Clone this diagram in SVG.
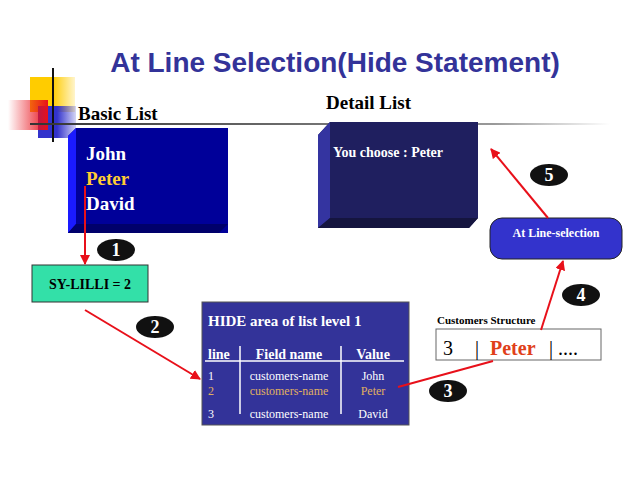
<svg xmlns="http://www.w3.org/2000/svg" width="638" height="478" viewBox="0 0 638 478">
<style>
.s{font-family:"Liberation Serif",serif;font-weight:bold}
.w{fill:#fff}
.r{stroke:#e8101a;stroke-width:2;fill:none}
.b ellipse{fill:#111}
.b text{font-family:"Liberation Serif",serif;font-weight:bold;font-size:18px;fill:#fff;text-anchor:middle}
</style>
<defs>
<marker id="a" viewBox="0 0 10 10" refX="9" refY="5" markerWidth="5" markerHeight="5" orient="auto"><path d="M0,0L10,5L0,10z" fill="#e8101a"/></marker>
<linearGradient id="rg" x1="1" x2="0"><stop offset="0" stop-color="#e8101a"/><stop offset="1" stop-color="#e8101a" stop-opacity="0"/></linearGradient>
<linearGradient id="yg" x1="0" x2="1"><stop offset="0.5" stop-color="#ffcc00"/><stop offset="1" stop-color="#ffcc00" stop-opacity="0.2"/></linearGradient>
<linearGradient id="bg" x1="0" x2="1"><stop offset="0.5" stop-color="#3333cc"/><stop offset="1" stop-color="#3333cc" stop-opacity="0.2"/></linearGradient>
<linearGradient id="lg" x1="0" x2="1"><stop offset="0" stop-color="#333"/><stop offset="0.8" stop-color="#999"/><stop offset="1" stop-color="#fff"/></linearGradient>
</defs>
<g id="decor">
<rect x="30" y="77" width="45" height="35" fill="url(#yg)"/>
<rect x="38" y="106" width="38" height="32" fill="url(#bg)"/>
<rect x="8" y="100" width="40" height="30" fill="url(#rg)"/>
<line x1="53" y1="68" x2="53" y2="142" stroke="#111" stroke-width="2"/>
<rect x="30" y="123" width="580" height="2" fill="url(#lg)"/>
</g>
<text x="335" y="72" text-anchor="middle" font-family="Liberation Sans,sans-serif" font-weight="bold" font-size="28" fill="#333399">At Line Selection(Hide Statement)</text>
<g id="basic">
<text x="78" y="120" class="s" font-size="19">Basic List</text>
<polygon points="76,128 228,128 228,233 68,233 68,136" fill="#000099"/>
<polygon points="68,136 76,128 76,224 68,233" fill="#1a1aff"/>
<polygon points="76,224 228,224 219,233 68,233" fill="#00006b"/>
<text x="86" y="160" class="s w" font-size="19">John</text>
<text x="86" y="185" class="s" font-size="19" fill="#ffcc33">Peter</text>
<text x="86" y="210" class="s w" font-size="19">David</text>
</g>
<g id="detail">
<text x="326" y="109" class="s" font-size="19">Detail List</text>
<polygon points="330,122 478,122 478,218 469,228 318,228 318,135" fill="#1f1f5f"/>
<polygon points="318,135 330,122 330,218 318,228" fill="#3434a0"/>
<polygon points="330,218 478,218 469,228 318,228" fill="#15153f"/>
<text x="333" y="157" class="s w" font-size="14">You choose : Peter</text>
</g>
<g id="sylilli">
<rect x="32" y="265" width="116" height="37" fill="#33e0a8" stroke="#333"/>
<text x="90" y="289" text-anchor="middle" class="s" font-size="14">SY-LILLI = 2</text>
</g>
<g id="hide">
<rect x="202" y="302" width="207" height="123" fill="#333399" stroke="#555"/>
<text x="208" y="326" class="s w" font-size="15">HIDE area of list level 1</text>
<g font-family="Liberation Serif,serif" font-size="12" fill="#fff">
<text x="208" y="359" font-weight="bold" font-size="14">line</text>
<text x="289" y="359" font-weight="bold" font-size="14" text-anchor="middle">Field name</text>
<text x="373" y="359" font-weight="bold" font-size="14" text-anchor="middle">Value</text>
<text x="208" y="380">1</text><text x="289" y="380" text-anchor="middle">customers-name</text><text x="373" y="380" text-anchor="middle">John</text>
<text x="208" y="395" fill="#e0b060">2</text><text x="289" y="395" text-anchor="middle" fill="#e0b060">customers-name</text><text x="373" y="395" text-anchor="middle" fill="#e0b060">Peter</text>
<text x="208" y="418">3</text><text x="289" y="418" text-anchor="middle">customers-name</text><text x="373" y="418" text-anchor="middle">David</text>
</g>
<g stroke="#fff" stroke-width="1.5">
<line x1="205" y1="361" x2="404" y2="361"/>
<line x1="240" y1="346" x2="240" y2="414"/>
<line x1="341" y1="346" x2="341" y2="414"/>
</g>
</g>
<g id="cust">
<text x="437" y="324" class="s" font-size="11">Customers Structure</text>
<rect x="436" y="329" width="165" height="31" fill="#fff" stroke="#666"/>
<text x="443" y="355" font-family="Liberation Serif,serif" font-size="20">3</text>
<text x="475" y="355" font-family="Liberation Serif,serif" font-size="20">|</text>
<text x="490" y="355" class="s" font-size="20" fill="#e0401a">Peter</text>
<text x="549" y="355" font-family="Liberation Serif,serif" font-size="20">| ....</text>
</g>
<g id="atline">
<rect x="490" y="218" width="132" height="41" rx="12" fill="#3333cc" stroke="#222"/>
<text x="556" y="237" text-anchor="middle" class="s w" font-size="12">At Line-selection</text>
</g>
<g id="connectors">
<line class="r" x1="85" y1="186" x2="85" y2="264" marker-end="url(#a)"/>
<line class="r" x1="85" y1="310" x2="200" y2="379" marker-end="url(#a)"/>
<line class="r" x1="398" y1="387" x2="493" y2="361"/>
<line class="r" x1="541" y1="330" x2="563" y2="261" marker-end="url(#a)"/>
<line class="r" x1="548" y1="218" x2="491" y2="149" marker-end="url(#a)"/>
</g>
<g id="badges" class="b">
<ellipse cx="116" cy="250" rx="19" ry="11"/><text x="116" y="256">1</text>
<ellipse cx="155" cy="327" rx="19" ry="11"/><text x="155" y="333">2</text>
<ellipse cx="448" cy="391" rx="19" ry="11"/><text x="448" y="397">3</text>
<ellipse cx="581" cy="295" rx="19" ry="11"/><text x="581" y="301">4</text>
<ellipse cx="549" cy="175" rx="19" ry="11"/><text x="549" y="181">5</text>
</g>
</svg>
